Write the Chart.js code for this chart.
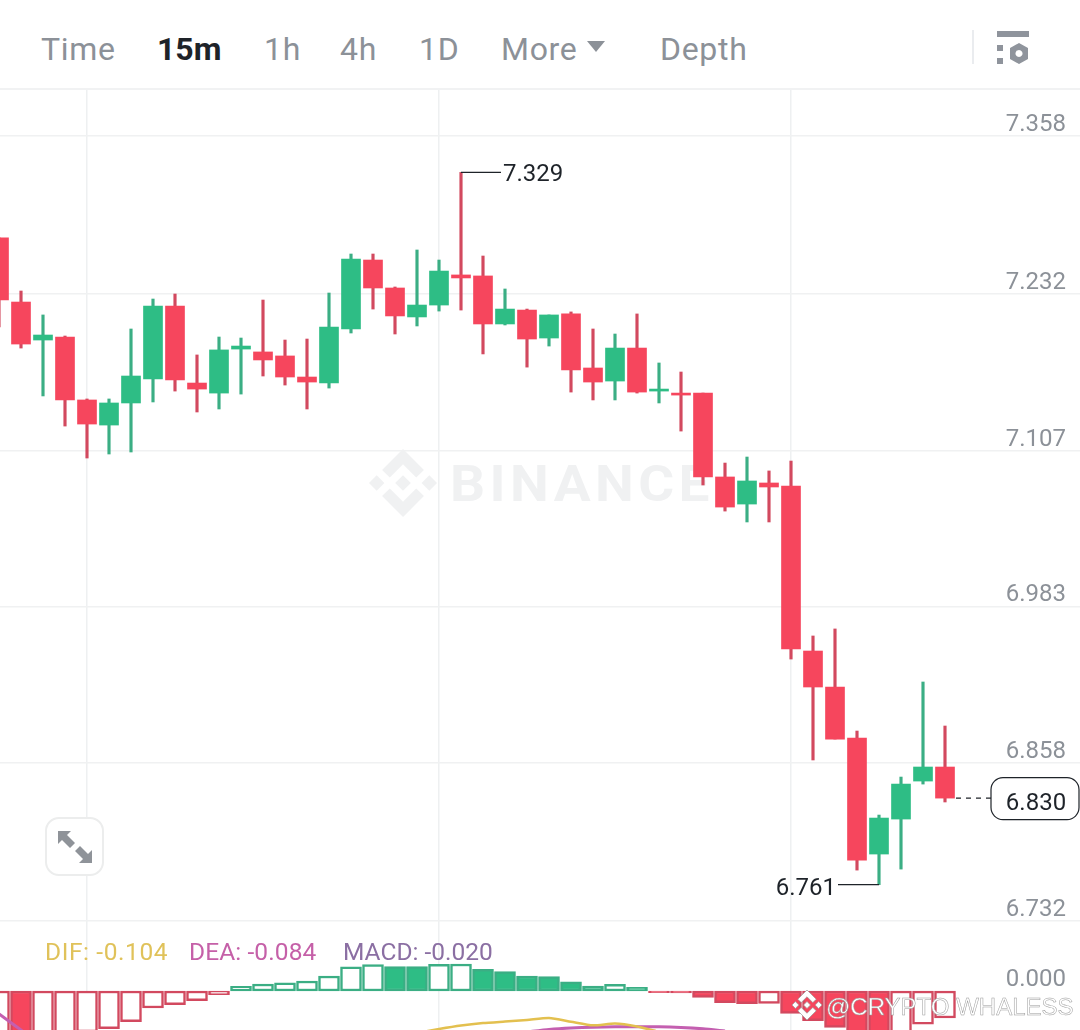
<!DOCTYPE html>
<html>
<head>
<meta charset="utf-8">
<title>15m chart</title>
<script src="https://cdn.jsdelivr.net/npm/chart.js@4/dist/chart.umd.min.js"></script>
<style>
html, body { margin: 0; padding: 0; background: #fff; }
body { width: 1080px; height: 1030px; position: relative; overflow: hidden; font-family: Roboto, sans-serif; }
.tab { position: absolute; top: 30px; font-size: 32px; line-height: 38px; letter-spacing: 0.7px; color: #8c9198; white-space: nowrap; }
.tab.on { color: #1e2329; font-weight: 700; letter-spacing: 0; }
#sep { position: absolute; left: 0; top: 88px; width: 1080px; height: 2px; background: #f1f2f3; }
#vsep { position: absolute; left: 972px; top: 30px; width: 2px; height: 34px; background: #eaecef; }
#wrap { position: absolute; left: 0; top: 90px; width: 1080px; height: 940px; z-index: 2; }
#wmText { position: absolute; left: 450px; top: 454px; font-size: 50px; line-height: 60px; font-weight: 700; letter-spacing: 4px; color: #f0f1f2; z-index: 1; transform: scaleX(1.1); transform-origin: left center; }
svg { position: absolute; }
#expand { position: absolute; left: 45px; top: 817px; width: 55px; height: 55px; border: 2px solid #eceded; border-radius: 14px; background: #fff; z-index: 3; }
#mark { position: absolute; left: 826px; top: 992px; font-family: "Liberation Sans", sans-serif; font-size: 24px; line-height: 30px; color: #fff; -webkit-text-stroke: 0.5px #9a9a9a; z-index: 4; white-space: nowrap; }
</style>
</head>
<body>
<div class="tab" style="left:41px">Time</div>
<div class="tab on" style="left:157px">15m</div>
<div class="tab" style="left:264px">1h</div>
<div class="tab" style="left:340px">4h</div>
<div class="tab" style="left:419px">1D</div>
<div class="tab" style="left:501px">More</div>
<svg style="left:586px;top:40px;z-index:3" width="20" height="13"><path d="M1 1 H19 L10 12 Z" fill="#8c9198"/></svg>
<div class="tab" style="left:660px">Depth</div>
<div id="vsep"></div>
<svg style="left:996px;top:30px" width="34" height="36">
  <rect x="1" y="1" width="32" height="6" fill="#8f949c"/>
  <rect x="1" y="15" width="6" height="6" fill="#8f949c"/>
  <rect x="1" y="28" width="6" height="6" fill="#8f949c"/>
  <path d="M23 13 L32 18 V29 L23 34 L14 29 V18 Z M23 20 a3.5 3.5 0 1 0 .01 0 Z" fill="#8f949c" fill-rule="evenodd"/>
</svg>
<div id="sep"></div>

<svg style="left:369px;top:449px;z-index:1" width="68" height="68" viewBox="0 0 126.61 126.61">
  <path fill="#f0f1f2" d="M38.73 53.2l24.59-24.58 24.6 24.6 14.3-14.31L63.32 0 24.42 38.9zM0 63.31l14.3-14.31 14.31 14.31L14.3 77.61zM38.73 73.41l24.59 24.59 24.6-24.6 14.31 14.29-38.9 38.91-38.91-38.88-.02-.02zM97.99 63.31l14.3-14.3 14.32 14.3-14.31 14.3zM77.83 63.3L63.31 48.78 52.59 59.5l-1.24 1.23-2.54 2.54 14.5 14.5 14.52-14.51z"/>
</svg>
<div id="wmText">BINANCE</div>

<div id="wrap"><canvas id="klineChart" width="1080" height="940"></canvas></div>

<div id="expand">
  <svg style="left:9px;top:10px" width="38" height="36" viewBox="0 0 38 36">
    <path fill="#8f9399" d="M2 2 H15 L11 6 L19 14 L14 19 L6 11 L2 15 Z"/>
    <path fill="#8f9399" d="M36 34 H23 L27 30 L19 22 L24 17 L32 25 L36 21 Z"/>
  </svg>
</div>
<svg style="left:792px;top:990px;z-index:4" width="30" height="30" viewBox="0 0 126.61 126.61">
  <path fill="#fff" stroke="#9a9a9a" stroke-width="3" d="M38.73 53.2l24.59-24.58 24.6 24.6 14.3-14.31L63.32 0 24.42 38.9zM0 63.31l14.3-14.31 14.31 14.31L14.3 77.61zM38.73 73.41l24.59 24.59 24.6-24.6 14.31 14.29-38.9 38.91-38.91-38.88-.02-.02zM97.99 63.31l14.3-14.3 14.32 14.3-14.31 14.3zM77.83 63.3L63.31 48.78 52.59 59.5l-1.24 1.23-2.54 2.54 14.5 14.5 14.52-14.51z"/>
</svg>
<div id="mark">@CRYPTO WHALESS</div>

<script>
const opens = [
    7.2767, 7.2256, 7.1953, 7.1977, 7.1475, 7.1275, 7.1451, 7.1642, 7.2224, 7.1610, 7.1530,
    7.1881, 7.1858, 7.1826, 7.1658, 7.1610, 7.2041, 7.2591, 7.2368, 7.2137, 7.2232, 7.2472,
    7.2464, 7.2081, 7.2192, 7.1969, 7.2161, 7.1730, 7.1626, 7.1889, 7.1546, 7.1530, 7.1530,
    7.0861, 7.0645, 7.0813, 7.0789, 6.9473, 6.9186, 6.8779, 6.7854, 6.8133, 6.8436, 6.8548
];
const closes = [
    7.2272, 7.1921, 7.1993, 7.1475, 7.1283, 7.1451, 7.1666, 7.2224, 7.1634, 7.1562, 7.1874,
    7.1905, 7.1794, 7.1658, 7.1618, 7.2057, 7.2599, 7.2368, 7.2145, 7.2232, 7.2503, 7.2448,
    7.2081, 7.2200, 7.1961, 7.2153, 7.1714, 7.1618, 7.1889, 7.1538, 7.1562, 7.1514, 7.0861,
    7.0621, 7.0829, 7.0781, 6.9489, 6.9186, 6.8771, 6.7806, 6.8141, 6.8412, 6.8548, 6.8300
];
const highs = [
    7.2767, 7.2344, 7.2153, 7.1985, 7.1483, 7.1483, 7.2041, 7.2280, 7.2320, 7.1834, 7.1977,
    7.1969, 7.2272, 7.1953, 7.1961, 7.2328, 7.2639, 7.2639, 7.2376, 7.2671, 7.2591, 7.3290,
    7.2623, 7.2360, 7.2200, 7.2153, 7.2177, 7.2041, 7.2001, 7.2161, 7.1770, 7.1698, 7.1530,
    7.0972, 7.1020, 7.0909, 7.0988, 6.9593, 6.9649, 6.8835, 6.8165, 6.8468, 6.9226, 6.8875
];
const lows = [
    7.2057, 7.1889, 7.1507, 7.1267, 7.1012, 7.1044, 7.1060, 7.1459, 7.1546, 7.1379, 7.1403,
    7.1522, 7.1666, 7.1594, 7.1403, 7.1570, 7.2009, 7.2200, 7.2001, 7.2065, 7.2184, 7.2192,
    7.1842, 7.2073, 7.1737, 7.1905, 7.1538, 7.1475, 7.1475, 7.1530, 7.1451, 7.1227, 7.0797,
    7.0589, 7.0502, 7.0502, 6.9409, 6.8604, 6.8771, 6.7726, 6.7610, 6.7734, 6.8412, 6.8269
];
const macdBars = [
    -0.0318, -0.0363, -0.0340, -0.0326, -0.0303, -0.0278, -0.0227, -0.0126, -0.0101, -0.0072, -0.0027,
    0.0035, 0.0052, 0.0061, 0.0074, 0.0111, 0.0178, 0.0195, 0.0180, 0.0180, 0.0198, 0.0200,
    0.0161, 0.0143, 0.0111, 0.0106, 0.0067, 0.0037, 0.0050, 0.0027, -0.0013, -0.0014, -0.0047,
    -0.0087, -0.0094, -0.0092, -0.0165, -0.0220, -0.0269, -0.0311, -0.0363, -0.0333, -0.0246, -0.0200
];
// only the parts of the two lines that show above the bottom edge
const difIndex = [19, 20, 21, 22, 23, 24, 25, 26, 27, 28, 29, 30];
const difValues = [-0.0311, -0.0281, -0.0255, -0.0237, -0.0226, -0.0215, -0.0200, -0.0227, -0.0254, -0.0241, -0.0263, -0.0303];
const deaIndex = [0, 1, 2, null, 24, 25, 26, 27, 28, 29, 30, 31, 32, 33];
const deaValues = [-0.0170, -0.0289, -0.0407, null, -0.0303, -0.0285, -0.0274, -0.0268, -0.0265, -0.0264, -0.0265, -0.0270, -0.0280, -0.0296];

const priceTicks = [7.358, 7.232, 7.107, 6.983, 6.858, 6.732];
const macdTicks = [0];
const timeGridIndex = [4, 20, 36];
const macdLegend = ['DIF: -0.104', 'DEA: -0.084', 'MACD: -0.020'];

const RED = '#f6465d';
const GREEN = '#2ebd85';
const RED_WICK = '#d2495f';
const GREEN_WICK = '#3bae84';
const TICK_GREY = '#8c9198';
const FONT = 'Roboto, sans-serif';

const isUp = (i) => closes[i] >= opens[i];

const wickData = highs.map((h, i) => ({ x: i, y: [lows[i], h] }));
const bodyData = opens.map((o, i) => ({ x: i, y: [o, closes[i]] }));
const barData = macdBars.map((v, i) => ({ x: i, y: v }));
// bars are hollow while the value is rising
const barHollow = macdBars.map((v, i) => i === 0 || v > macdBars[i - 1]);

function fitRightAxis(scale) {
    scale.width = 0;
    scale.paddingTop = 0;
    scale.paddingBottom = 0;
}

const overlayPlugin = {
    id: 'overlay',
    afterDraw(chart) {
        const { ctx, scales } = chart;
        const last = closes.length - 1;
        const hiIdx = highs.indexOf(Math.max(...highs));
        const loIdx = lows.indexOf(Math.min(...lows));
        const hx = scales.x.getPixelForValue(hiIdx);
        const hy = scales.y.getPixelForValue(highs[hiIdx]);
        const lx = scales.x.getPixelForValue(loIdx);
        const ly = scales.y.getPixelForValue(lows[loIdx]);
        const cy = scales.y.getPixelForValue(closes[last]);
        const cx = scales.x.getPixelForValue(last);

        ctx.save();
        ctx.strokeStyle = '#1e2329';
        ctx.fillStyle = '#1e2329';
        ctx.lineWidth = 1.2;
        ctx.font = '24px ' + FONT;
        ctx.textBaseline = 'middle';

        // high / low markers
        ctx.beginPath();
        ctx.moveTo(hx, hy);
        ctx.lineTo(hx + 40, hy);
        ctx.moveTo(lx, ly);
        ctx.lineTo(lx - 41, ly);
        ctx.stroke();
        ctx.textAlign = 'left';
        ctx.fillText(highs[hiIdx].toFixed(3), hx + 42, hy + 2.5);
        ctx.textAlign = 'right';
        ctx.fillText(lows[loIdx].toFixed(3), lx - 43, ly + 4);

        // last price tag
        ctx.setLineDash([5, 5]);
        ctx.beginPath();
        ctx.moveTo(cx + 11, cy);
        ctx.lineTo(991, cy);
        ctx.stroke();
        ctx.setLineDash([]);
        ctx.beginPath();
        ctx.roundRect(991, cy - 20.5, 88, 42, 12);
        ctx.fillStyle = '#fff';
        ctx.fill();
        ctx.stroke();
        ctx.fillStyle = '#1e2329';
        ctx.textAlign = 'center';
        ctx.fillText(closes[last].toFixed(3), 1036, cy + 6);

        // macd legend
        ctx.textAlign = 'left';
        ctx.font = '24.5px ' + FONT;
        ctx.fillStyle = '#e0c25a';
        ctx.letterSpacing = '0.6px';
        ctx.fillText(macdLegend[0], 45, 864);
        ctx.letterSpacing = '0.1px';
        ctx.fillStyle = '#c560a8';
        ctx.fillText(macdLegend[1], 189, 864);
        ctx.letterSpacing = '0px';
        ctx.fillStyle = '#8b6fa3';
        ctx.fillText(macdLegend[2], 343, 864);
        ctx.restore();
    }
};

new Chart(document.getElementById('klineChart').getContext('2d'), {
    type: 'bar',
    data: {
        datasets: [
            {
                label: 'wick',
                data: wickData,
                yAxisID: 'y',
                barThickness: 2.5,
                grouped: false,
                order: 4,
                backgroundColor: wickData.map((d, i) => isUp(i) ? GREEN_WICK : RED_WICK)
            },
            {
                label: 'body',
                data: bodyData,
                yAxisID: 'y',
                barThickness: 19,
                grouped: false,
                order: 3,
                backgroundColor: bodyData.map((d, i) => isUp(i) ? GREEN : RED)
            },
            {
                label: 'MACD',
                data: barData,
                yAxisID: 'yMacd',
                barThickness: 21,
                grouped: false,
                order: 2,
                borderWidth: 2.5,
                borderSkipped: false,
                borderColor: macdBars.map((v) => v >= 0 ? GREEN_WICK : RED_WICK),
                backgroundColor: macdBars.map((v, i) => barHollow[i] ? '#fff' : (v >= 0 ? GREEN : RED))
            },
            {
                type: 'line',
                label: 'DIF',
                data: difIndex.map((x, i) => ({ x, y: difValues[i] })),
                yAxisID: 'yMacd',
                order: 1,
                borderColor: '#e3c04f',
                borderWidth: 2.5,
                pointRadius: 0,
                tension: 0.2
            },
            {
                type: 'line',
                label: 'DEA',
                data: deaIndex.map((x, i) => ({ x, y: deaValues[i] })),
                yAxisID: 'yMacd',
                order: 1,
                borderColor: '#c45fb0',
                borderWidth: 3,
                pointRadius: 0,
                tension: 0.2,
                spanGaps: false
            }
        ]
    },
    options: {
        responsive: false,
        animation: false,
        events: [],
        layout: { padding: 0 },
        plugins: { legend: { display: false }, tooltip: { enabled: false } },
        scales: {
            x: {
                type: 'linear',
                offset: false,
                min: 1 / 22,
                max: 1 / 22 + 1080 / 22,
                afterBuildTicks: (scale) => { scale.ticks = timeGridIndex.map((value) => ({ value })); },
                afterFit: (scale) => { scale.height = 0; },
                border: { display: false },
                grid: { offset: false, color: '#eef0f1', lineWidth: 1.5, drawTicks: false },
                ticks: { display: false }
            },
            y: {
                type: 'linear',
                position: 'right',
                min: 7.358 - 894 / 1254,
                max: 7.358 + 46 / 1254,
                afterBuildTicks: (scale) => { scale.ticks = priceTicks.map((value) => ({ value })); },
                afterFit: fitRightAxis,
                border: { display: false },
                grid: { color: '#f0f1f2', lineWidth: 1.5, drawTicks: false },
                ticks: {
                    mirror: true,
                    autoSkip: false,
                    padding: -14,
                    labelOffset: -11,
                    z: 2,
                    color: TICK_GREY,
                    font: { family: FONT, size: 24 },
                    callback: (v) => v.toFixed(3)
                }
            },
            yMacd: {
                type: 'linear',
                position: 'right',
                min: -39 * 0.00074,
                max: 901 * 0.00074,
                afterBuildTicks: (scale) => { scale.ticks = macdTicks.map((value) => ({ value })); },
                afterFit: fitRightAxis,
                border: { display: false },
                grid: { display: false, drawTicks: false },
                ticks: {
                    mirror: true,
                    autoSkip: false,
                    padding: -14,
                    labelOffset: -11,
                    z: 2,
                    color: TICK_GREY,
                    font: { family: FONT, size: 24 },
                    callback: (v) => v.toFixed(3)
                }
            }
        }
    },
    plugins: [overlayPlugin]
});
</script>
</body>
</html>
